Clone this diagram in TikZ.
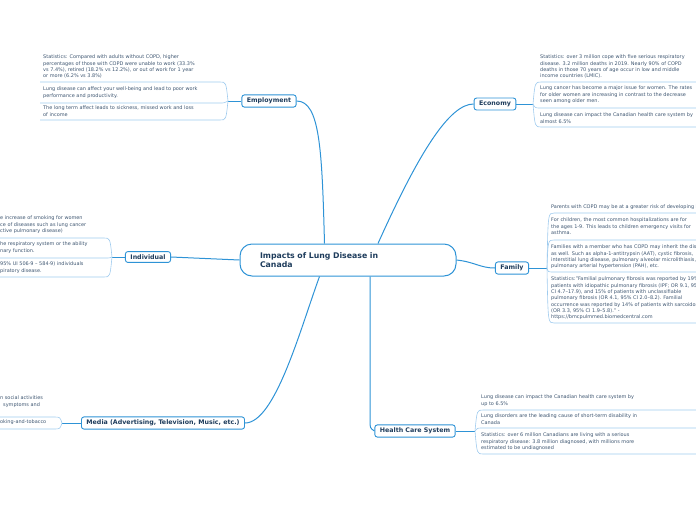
\documentclass[tikz,border=0pt]{standalone}
\usepackage{fontspec}
\setmainfont{DejaVu Sans}
\definecolor{br}{HTML}{2E93D6}
\definecolor{lf}{HTML}{9FCBEE}
\definecolor{tx}{HTML}{1E3C5C}
\definecolor{lt}{HTML}{3D5570}
\tikzset{
 topic/.style={draw=br,line width=0.9pt,rounded corners=2.5pt,fill=white,text=tx,font=\fontsize{6.3}{7.5}\selectfont\bfseries,inner xsep=5pt,inner ysep=3pt},
 leaftext/.style={anchor=north west,inner sep=0pt,align=left,text=lt,font=\fontsize{4.95}{6.3}\selectfont},
 conn/.style={draw=br,line width=1pt},
 lline/.style={draw=lf,line width=0.6pt},
}
\begin{document}
\begin{tikzpicture}[x=1pt,y=-1pt]
\useasboundingbox (0,0) rectangle (696,520);
\clip (0,0) rectangle (696,520);
% main
\node[draw=br,line width=1pt,rounded corners=12pt,minimum width=216pt,minimum height=32pt,text=tx,font=\fontsize{7.8}{9.5}\selectfont\bfseries,align=left,text width=176pt] (c) at (348,260) {Impacts of Lung Disease in\\Canada};
\node[topic] (emp) at (269,101) {Employment};
\node[topic] (eco) at (495,104) {Economy};
\node[topic] (fam) at (512,268) {Family};
\node[topic] (ind) at (148,257) {Individual};
\node[topic] (med) at (163,423) {Media (Advertising, Television, Music, etc.)};
\node[topic] (hcs) at (415,431) {Health Care System};
% branches
\draw[conn] (c.north west)++(85,0) coordinate (a1) .. controls (322,150) and (320,101) .. (emp.east);
\draw[conn] (c.north)++(30,0) coordinate (a2) .. controls (420,150) and (450,104) .. (eco.west);
\draw[conn] (c.east) .. controls (475,262) and (480,268) .. (fam.west);
\draw[conn] (c.west) -- (ind.east);
\draw[conn] (c.south west)++(80,0) coordinate (a3) .. controls (300,330) and (275,423) .. (med.east);
\draw[conn] (c.south)++(22,0) coordinate (a4) -- (370,420) .. controls (370,428) .. (hcs.west);
% Employment leaves
\coordinate (eb) at (228,101);
\draw[conn,line width=0.6pt] (emp.west) -- (eb);
\node[leaftext] (e1) at (43,55) {Statistics: Compared with adults without COPD, higher\\percentages of those with COPD were unable to work (33.3\%\\vs 7.4\%), retired (18.2\% vs 12.2\%), or out of work for 1 year\\or more (6.2\% vs 3.8\%)};
\node[leaftext] (e2) at (43,87) {Lung disease can affect your well-being and lead to poor work\\performance and productivity.};
\node[leaftext] (e3) at (43,106) {The long term affect leads to sickness, missed work and loss\\of income};
\draw[lline] (40,82) -- (220,82) .. controls (226,82) .. (eb) .. controls (226,120) .. (220,120) -- (40,120);
\draw[lline] (40,103) -- (220,103) .. controls (224,103) .. (eb);
% Economy leaves
\coordinate (ob) at (533,104);
\draw[conn,line width=0.6pt] (eco.east) -- (ob);
\node[leaftext] (o1) at (540,55) {Statistics: over 3 million cope with five serious respiratory\\disease. 3.2 million deaths in 2019. Nearly 90\% of COPD\\deaths in those 70 years of age occur in low and middle\\income countries (LMIC).};
\node[leaftext] (o2) at (540,86) {Lung cancer has become a major issue for women. The rates\\for older women are increasing in contrast to the decrease\\seen among older men.};
\node[leaftext] (o3) at (540,113) {Lung disease can impact the Canadian health care system by\\almost 6.5\%};
\draw[lline] (700,82) -- (541,82) .. controls (535,82) .. (ob) .. controls (535,127) .. (541,127) -- (700,127);
\draw[lline] (ob) .. controls (535,108) .. (541,108) -- (700,108);
% Family leaves
\coordinate (fb) at (547,268);
\draw[conn,line width=0.6pt] (fam.east) -- (fb);
\node[leaftext] (f1) at (551,205) {Parents with COPD may be at a greater risk of developing lung disease};
\node[leaftext] (f2) at (551,218) {For children, the most common hospitalizations are for\\the ages 1-9. This leads to children emergency visits for\\asthma.};
\node[leaftext] (f3) at (551,245) {Families with a member who has COPD may inherit the disease\\as well. Such as alpha-1-antitrypsin (AAT), cystic fibrosis,\\interstitial lung disease, pulmonary alveolar microlithiasis,\\pulmonary arterial hypertension (PAH), etc.};
\node[leaftext] (f4) at (551,277) {Statistics:"Familial pulmonary fibrosis was reported by 19\% of\\patients with idiopathic pulmonary fibrosis (IPF; OR 9.1, 95\%\\CI 4.7–17.9), and 15\% of patients with unclassifiable\\pulmonary fibrosis (OR 4.1, 95\% CI 2.0–8.2). Familial\\occurrence was reported by 14\% of patients with sarcoidosis\\(OR 3.3, 95\% CI 1.9–5.8)." -\\https://bmcpulmmed.biomedcentral.com};
\draw[lline] (700,213) -- (554,213) .. controls (548,213) .. (fb) .. controls (548,323) .. (554,323) -- (700,323);
\draw[lline] (fb) .. controls (548,240) .. (554,240) -- (700,240);
\draw[lline] (fb) .. controls (548,272) .. (554,272) -- (700,272);
% Individual leaves
\coordinate (ib) at (112,257);
\draw[conn,line width=0.6pt] (ind.west) -- (ib);
\node[leaftext] (i1) at (0,216) {e increase of smoking for women\\ce of diseases such as lung cancer\\ctive pulmonary disease)};
\node[leaftext] (i2) at (0,242) {he respiratory system or the ability\\nary function.};
\node[leaftext] (i3) at (0,262) {95\% UI 506·9 – 584·9) individuals\\piratory disease.};
\draw[lline] (-5,238) -- (104,238) .. controls (110,238) .. (ib) .. controls (110,277) .. (104,277) -- (-5,277);
\draw[lline] (ib) .. controls (110,258) .. (104,258) -- (-5,258);
% Media leaves
\coordinate (mb) at (62,423);
\draw[conn,line width=0.6pt] (med.west) -- (mb);
\node[leaftext] (m1) at (0,396) {n social activities\\\hspace*{3pt}symptoms and};
\node[leaftext] (m2) at (0,420) {oking-and-tobacco};
\draw[lline] (-5,417) -- (54,417) .. controls (60,417) .. (mb) .. controls (60,429) .. (54,429) -- (-5,429);
% Health leaves
\coordinate (hb) at (475,431);
\draw[conn,line width=0.6pt] (hcs.east) -- (hb);
\node[leaftext] (h1) at (481,395) {Lung disease can impact the Canadian health care system by\\up to 6.5\%};
\node[leaftext] (h2) at (481,414) {Lung disorders are the leading cause of short-term disability in\\Canada};
\node[leaftext] (h3) at (481,433) {Statistics: over 6 million Canadians are living with a serious\\respiratory disease: 3.8 million diagnosed, with millions more\\estimated to be undiagnosed};
\draw[lline] (700,410) -- (483,410) .. controls (477,410) .. (hb) .. controls (477,454) .. (483,454) -- (700,454);
\draw[lline] (hb) .. controls (477,428) .. (483,428) -- (700,428);
\end{tikzpicture}
\end{document}
